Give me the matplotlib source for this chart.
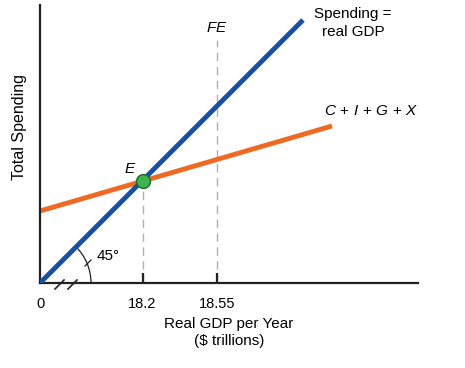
import matplotlib
matplotlib.use("Agg")
import matplotlib.pyplot as plt
import numpy as np
from matplotlib.patches import Arc

# chart values (abstract units along each axis)
line45_x = [0, 263]
line45_y = [0, 263]
ae_x = [0, 292]
ae_y = [72, 157]
eq_x, eq_y = 102.5, 102.5
fe_x = 177
fe_top = 243
tick_pos = [0, eq_x, fe_x]
tick_labels = ["0", "18.2", "18.55"]

blue = "#164fa6"
orange = "#ee6a24"
grey = "#b0b0b0"

plt.rcParams["font.family"] = ["Liberation Sans", "DejaVu Sans"]
plt.rcParams["mathtext.fontset"] = "custom"
plt.rcParams["mathtext.rm"] = "Liberation Sans"
plt.rcParams["mathtext.it"] = "Liberation Sans:italic"

fig = plt.figure(figsize=(4.65, 3.68), dpi=100)
ax = fig.add_axes([40 / 465, 85 / 368, 378 / 465, 278 / 368])
ax.set_xlim(0, 378)
ax.set_ylim(0, 278)

for s in ["top", "right"]:
    ax.spines[s].set_visible(False)
for s in ["left", "bottom"]:
    ax.spines[s].set_linewidth(1.6)
    ax.spines[s].set_color("#222222")

# dashed guides
ax.plot([eq_x, eq_x], [0, eq_y], color=grey, lw=1, dashes=(6, 4), zorder=1)
ax.plot([fe_x, fe_x], [0, fe_top], color=grey, lw=1, dashes=(6, 4), zorder=1)

ax.plot(ae_x, ae_y, color=orange, lw=3.5, solid_capstyle="butt", zorder=2)
ax.plot(line45_x, line45_y, color=blue, lw=3.5, solid_capstyle="butt", zorder=3)
ax.plot([eq_x], [eq_y], "o", ms=10, color="#3fb34f", mec="#1d6a2a", mew=1, zorder=4)

# 45 degree arc
ax.add_patch(Arc((0, 0), 102, 102, theta1=0, theta2=45, color="#222222", lw=0.9))
ax.plot([45, 51], [17, 23], color="#222222", lw=0.9)
ax.text(57, 27, "45°", fontsize=11, ha="left", va="center")

# axis break marks
for bx in [15, 28]:
    ax.plot([bx, bx + 9], [-6, 3], color="#222222", lw=1.2, clip_on=False)

ax.text(90, 114, "$E$", fontsize=11, ha="center", va="center")
ax.text(fe_x, 255, "$FE$", fontsize=11, ha="center", va="center")
ax.text(313, 260, "Spending =\nreal GDP", fontsize=11, ha="center", va="center",
        linespacing=1.3)
ax.text(331, 172, "$C\\,+\\,I\\,+\\,G\\,+\\,X$", fontsize=11, ha="center", va="center")

ax.set_yticks([])
ax.set_xticks(tick_pos)
ax.set_xticklabels(tick_labels, fontsize=10.5)
ax.tick_params(axis="x", direction="in", length=7, width=1.6, pad=10, color="#222222")
ax.xaxis.get_major_ticks()[0].tick1line.set_visible(False)

ax.set_xlabel("Real GDP per Year\n(\\$ trillions)", fontsize=11, linespacing=1.3)
ax.xaxis.set_label_coords(0.5, -0.123)
ax.set_ylabel("Total Spending", fontsize=11.5)
ax.yaxis.set_label_coords(-0.035, 0.56)

fig.savefig("out.png", dpi=100)
